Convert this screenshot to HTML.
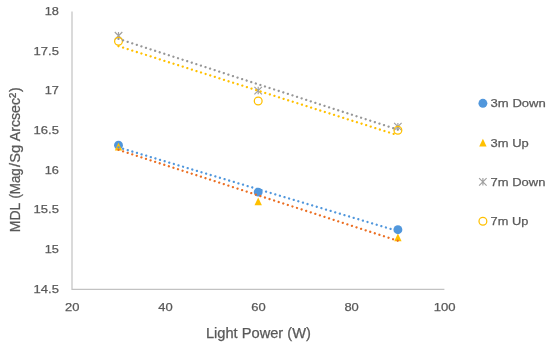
<!DOCTYPE html>
<html><head><meta charset="utf-8"><title>MDL vs Light Power</title>
<style>html,body{margin:0;padding:0;background:#fff}svg{display:block}text{font-family:"Liberation Sans",sans-serif;stroke:#595959;stroke-width:0.25px}</style></head>
<body>
<svg width="550" height="347" viewBox="0 0 550 347">
<rect width="550" height="347" fill="#fff"/>
<path d="M72.0 11.4 V289.3 H444.4" fill="none" stroke="#C2C2C2" stroke-width="1.2"/>
<text x="58.9" y="15.1" text-anchor="end" font-size="11.5" fill="#595959" textLength="14.2" lengthAdjust="spacingAndGlyphs">18</text>
<text x="58.9" y="54.8" text-anchor="end" font-size="11.5" fill="#595959" textLength="25.4" lengthAdjust="spacingAndGlyphs">17.5</text>
<text x="58.9" y="94.4" text-anchor="end" font-size="11.5" fill="#595959" textLength="14.2" lengthAdjust="spacingAndGlyphs">17</text>
<text x="58.9" y="134.1" text-anchor="end" font-size="11.5" fill="#595959" textLength="25.4" lengthAdjust="spacingAndGlyphs">16.5</text>
<text x="58.9" y="173.7" text-anchor="end" font-size="11.5" fill="#595959" textLength="14.2" lengthAdjust="spacingAndGlyphs">16</text>
<text x="58.9" y="213.4" text-anchor="end" font-size="11.5" fill="#595959" textLength="25.4" lengthAdjust="spacingAndGlyphs">15.5</text>
<text x="58.9" y="253.0" text-anchor="end" font-size="11.5" fill="#595959" textLength="14.2" lengthAdjust="spacingAndGlyphs">15</text>
<text x="58.9" y="292.7" text-anchor="end" font-size="11.5" fill="#595959" textLength="25.4" lengthAdjust="spacingAndGlyphs">14.5</text>
<text x="72.3" y="311.0" text-anchor="middle" font-size="11.5" fill="#595959" textLength="14.4" lengthAdjust="spacingAndGlyphs">20</text>
<text x="165.4" y="311.0" text-anchor="middle" font-size="11.5" fill="#595959" textLength="14.4" lengthAdjust="spacingAndGlyphs">40</text>
<text x="258.5" y="311.0" text-anchor="middle" font-size="11.5" fill="#595959" textLength="14.4" lengthAdjust="spacingAndGlyphs">60</text>
<text x="351.6" y="311.0" text-anchor="middle" font-size="11.5" fill="#595959" textLength="14.4" lengthAdjust="spacingAndGlyphs">80</text>
<text x="444.7" y="311.0" text-anchor="middle" font-size="11.5" fill="#595959" textLength="21.8" lengthAdjust="spacingAndGlyphs">100</text>
<text x="258.4" y="337.8" text-anchor="middle" font-size="14" fill="#595959" textLength="105" lengthAdjust="spacingAndGlyphs">Light Power (W)</text>
<text transform="translate(19.8 232.3) rotate(-90)" font-size="14" fill="#595959" textLength="29.6" lengthAdjust="spacingAndGlyphs">MDL</text>
<text transform="translate(19.8 198.6) rotate(-90)" font-size="14" fill="#595959" textLength="30.4" lengthAdjust="spacingAndGlyphs">(Mag</text>
<text transform="translate(19.8 166.9) rotate(-90)" font-size="14" fill="#595959" textLength="22.0" lengthAdjust="spacingAndGlyphs">/Sg</text>
<text transform="translate(19.8 141.2) rotate(-90)" font-size="14" fill="#595959" textLength="53.8" lengthAdjust="spacingAndGlyphs">Arcsec<tspan font-size="15.5" dy="0.3">²</tspan><tspan dy="-0.3" dx="0.6">)</tspan></text>
<circle cx="118.5" cy="145.2" r="4.45" fill="#5197DC"/>
<circle cx="258.2" cy="192.1" r="4.45" fill="#5197DC"/>
<circle cx="397.9" cy="229.7" r="4.45" fill="#5197DC"/>
<path d="M118.5 142.7 L122.2 150.4 H114.8 Z" fill="#FFC000"/>
<path d="M258.2 197.5 L261.9 205.2 H254.5 Z" fill="#FFC000"/>
<path d="M397.9 233.6 L401.6 241.3 H394.2 Z" fill="#FFC000"/>
<path d="M114.8 32.0 L122.3 39.5 M122.3 32.0 L114.8 39.5 M118.5 32.0 V39.5" stroke="#A0A0A0" stroke-width="1.15" fill="none"/>
<path d="M254.4 86.8 L261.9 94.3 M261.9 86.8 L254.4 94.3 M258.2 86.8 V94.3" stroke="#A0A0A0" stroke-width="1.15" fill="none"/>
<path d="M394.1 122.9 L401.6 130.4 M401.6 122.9 L394.1 130.4 M397.9 122.9 V130.4" stroke="#A0A0A0" stroke-width="1.15" fill="none"/>
<circle cx="118.5" cy="41.3" r="3.9" fill="none" stroke="#FFC000" stroke-width="1.25"/>
<circle cx="258.2" cy="101.0" r="3.9" fill="none" stroke="#FFC000" stroke-width="1.25"/>
<circle cx="397.9" cy="130.2" r="3.9" fill="none" stroke="#FFC000" stroke-width="1.25"/>
<path d="M118.5 147.4 L397.9 231.1" stroke="#5197DC" stroke-width="2.3" stroke-linecap="round" stroke-dasharray="0.01 4.803" fill="none"/>
<path d="M118.5 149.9 L397.9 240.8" stroke="#EB6E22" stroke-width="2.3" stroke-linecap="round" stroke-dasharray="0.01 4.803" fill="none"/>
<path d="M118.5 38.9 L397.9 129.7" stroke="#979797" stroke-width="2.3" stroke-linecap="round" stroke-dasharray="0.01 4.803" fill="none"/>
<path d="M118.5 46.2 L397.9 135.3" stroke="#FFC000" stroke-width="2.3" stroke-linecap="round" stroke-dasharray="0.01 4.803" fill="none"/>
<circle cx="482.9" cy="103.3" r="4.45" fill="#5197DC"/>
<text x="490.6" y="107.2" font-size="11.8" fill="#595959" textLength="55.2" lengthAdjust="spacingAndGlyphs">3m Down</text>
<path d="M482.9 138.8 L486.6 146.5 H479.2 Z" fill="#FFC000"/>
<text x="490.6" y="146.9" font-size="11.8" fill="#595959" textLength="38.1" lengthAdjust="spacingAndGlyphs">3m Up</text>
<path d="M479.1 178.1 L486.6 185.6 M486.6 178.1 L479.1 185.6 M482.9 178.1 V185.6" stroke="#A0A0A0" stroke-width="1.15" fill="none"/>
<text x="490.6" y="185.7" font-size="11.8" fill="#595959" textLength="54.8" lengthAdjust="spacingAndGlyphs">7m Down</text>
<circle cx="482.9" cy="221.3" r="3.9" fill="none" stroke="#FFC000" stroke-width="1.25"/>
<text x="490.6" y="225.1" font-size="11.8" fill="#595959" textLength="37.7" lengthAdjust="spacingAndGlyphs">7m Up</text>
</svg>
</body></html>
